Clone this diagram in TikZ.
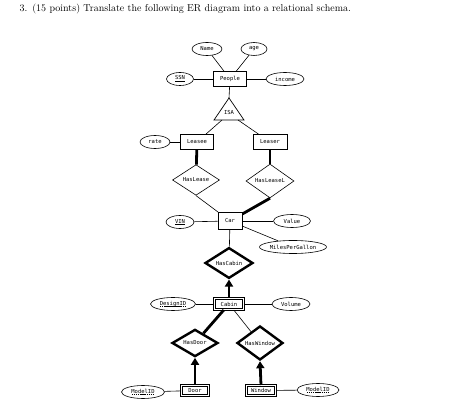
\documentclass[tikz,border=0pt]{standalone}
\usepackage{fontspec}
\newfontfamily\ermono{DejaVu Sans Mono}
\usetikzlibrary{shapes.geometric, arrows.meta}
\newsavebox{\keybox}
\newcommand{\dashkey}[1]{\sbox{\keybox}{#1}%
    \rlap{\raisebox{-1.3pt}{\hbox to \wd\keybox{\xleaders\hbox to 2pt{\hss\rule{1.3pt}{0.5pt}\hss}\hfill}}}\usebox{\keybox}}
\tikzset{
    er/.style={font=\ermono\fontsize{5.5}{6}\selectfont},
    entity/.style={er, draw, line width=0.9pt, minimum width=33pt, minimum height=15pt, inner sep=1pt},
    weak entity/.style={er, draw, double, double distance=1pt, line width=1pt,
        minimum width=29pt, minimum height=11pt, inner sep=1pt},
    attr/.style={er, draw, ellipse, line width=0.6pt, minimum height=13pt, inner sep=0.5pt},
    rel/.style={er, draw, diamond, line width=0.6pt, minimum width=47pt, minimum height=27pt, inner sep=0pt},
    ident rel/.style={rel, line width=2.4pt, minimum width=46pt, minimum height=25pt},
    link/.style={line width=0.6pt},
    total/.style={line width=2.8pt},
    key arrow/.style={total, -{Triangle[width=8pt,length=7pt]}}
}

\begin{document}
\begin{tikzpicture}[x=1pt, y=-1pt]

\useasboundingbox (0,0) rectangle (474,419);

\node[anchor=west] (title) at (16,9)
    {3.\enspace(15 points) Translate the following ER diagram into a relational schema.};

% Entidades
\node[entity] (people) at (230,79) {People};
\node[entity] (leasee) at (197,142) {Leasee};
\node[entity, minimum width=34pt] (leaser) at (270,142) {Leaser};
\node[entity, minimum width=24pt, minimum height=17pt] (car) at (230,221) {Car};
\node[weak entity] (cabin) at (229,304) {Cabin};
\node[weak entity, minimum width=27pt, minimum height=10pt] (door) at (195,390.5) {Door};
\node[weak entity, minimum height=10pt] (window) at (261,390.5) {Window};

% Atributos
\node[attr, minimum width=30pt] (name) at (207,49) {Name};
\node[attr, minimum width=26pt] (age) at (254,49) {age};
\node[attr, minimum width=27pt] (ssn) at (180,79) {\underline{SSN}};
\node[attr, minimum width=38pt] (income) at (285,79) {income};
\node[attr, minimum width=30pt] (rate) at (155,142) {rate};
\node[attr, minimum width=28pt] (vin) at (180,222) {\underline{VIN}};
\node[attr, minimum width=37pt] (value) at (292,221) {Value};
\node[attr, minimum width=67pt] (mpg) at (293,247) {MilesPerGallon};
\node[attr, minimum width=45pt] (designID) at (173,304) {\dashkey{DesignID}};
\node[attr, minimum width=38pt] (volume) at (291,304) {Volume};
\node[attr, minimum width=43pt] (modelIDa) at (143,392) {\dashkey{ModelID}};
\node[attr, minimum width=42pt] (modelIDb) at (318,390) {\dashkey{ModelID}};

% Relaciones
\node[rel] (hasLease) at (196,180) {HasLease};
\node[rel, minimum width=48pt] (hasLeaseL) at (270,181) {HasLeaseL};
\node[ident rel, minimum width=48pt, minimum height=26pt] (hasCabin) at (229,263) {HasCabin};
\node[ident rel] (hasDoor) at (195,343) {HasDoor};
\node[ident rel] (hasWindow) at (260,343) {HasWindow};

% Triangulo ISA
\coordinate (isaTop) at (229,98);
\coordinate (isaL) at (214,120);
\coordinate (isaR) at (244,120);
\coordinate (isaOutL) at (222,120);
\coordinate (isaOutR) at (238,120);
\draw[line width=0.7pt] (isaTop) -- (isaL) -- (isaR) -- cycle;
\node[er] (isa) at (barycentric cs:isaTop=1,isaL=1,isaR=1) {ISA};

% Conectores
\draw[link] (name) -- (people);
\draw[link] (age) -- (people);
\draw[link] (ssn) -- (people);
\draw[link] (income) -- (people);
\draw[link] (people) -- (isaTop);
\draw[link] (isaOutL) -- (leasee);
\draw[link] (isaOutR) -- (leaser);
\draw[link] (rate) -- (leasee);

\draw[total] (leasee) -- (hasLease);
\draw[total] (leaser) -- (hasLeaseL);
\draw[link] (hasLease.south) -- (car);
\draw[total] (hasLeaseL.south) -- (car);

\draw[link] (vin) -- (car);
\draw[link] (value) -- (car);
\draw[link] (mpg) -- (car);
\draw[link] (car) -- (hasCabin);

\draw[key arrow] (cabin) -- (hasCabin);
\draw[link] (designID) -- (cabin);
\draw[link] (volume) -- (cabin);
\draw[total] (cabin) -- (hasDoor);
\draw[link] (cabin) -- (hasWindow);

\draw[key arrow] (door) -- (hasDoor);
\draw[key arrow] (window.north) -- (hasWindow.south);
\draw[link] (modelIDa) -- (door);
\draw[link] (window) -- (modelIDb);

\end{tikzpicture}
\end{document}
